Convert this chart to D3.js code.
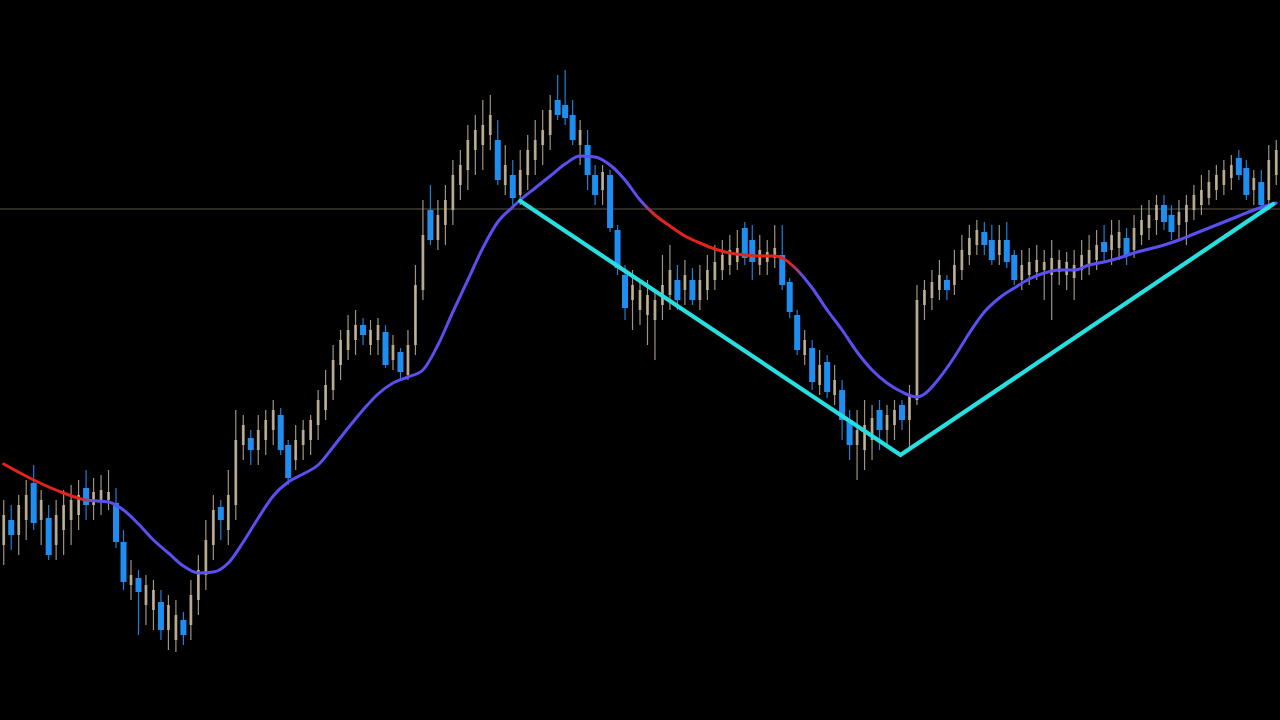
<!DOCTYPE html>
<html><head><meta charset="utf-8">
<script src="https://cdn.jsdelivr.net/npm/d3@7"></script>
<style>html,body{margin:0;padding:0;background:#000;overflow:hidden}</style>
</head><body><svg id="c" width="1280" height="720"></svg>
<script>
// candles: [open, high, low, close]
const candles = [
[117.5,122.0,115.5,120.5],[120.0,121.5,117.0,118.5],[118.5,122.5,116.5,121.5],[120.0,124.0,118.0,122.5],
[123.7,125.5,119.0,119.7],[120.0,123.0,117.5,122.0],[120.2,121.5,116.0,116.5],[117.5,122.0,116.0,120.5],
[119.0,123.0,116.5,121.5],[120.0,123.5,117.5,122.0],[120.5,124.0,119.0,122.5],[123.2,125.0,120.0,121.5],
[121.5,124.2,120.0,122.8],[122.0,124.5,120.5,123.0],[122.0,125.0,121.0,122.8],[121.7,123.2,117.2,117.8],
[117.8,119.0,113.0,113.8],[113.5,116.0,112.0,114.5],[114.2,115.0,108.5,112.8],[111.5,114.5,109.5,113.5],
[111.0,114.0,109.0,113.0],[111.8,113.0,108.0,109.0],[109.0,112.5,107.0,111.5],[108.0,112.0,106.8,110.5],
[110.0,110.8,107.5,108.5],[109.5,114.0,108.0,112.5],[112.0,116.5,110.5,115.0],[114.5,120.0,113.0,118.0],
[117.5,122.5,116.0,121.0],[121.3,122.0,118.0,120.0],[119.0,125.0,117.5,122.5],[121.5,131.0,120.0,128.0],
[127.5,130.5,126.0,129.5],[128.2,129.0,125.5,127.0],[127.0,130.5,125.5,129.0],[128.0,131.0,126.5,130.0],
[129.0,132.0,127.5,131.0],[130.5,131.2,126.5,127.0],[127.5,128.0,123.5,124.2],[126.0,129.5,125.0,128.0],
[127.5,130.0,126.0,129.0],[128.0,130.5,126.5,130.0],[129.5,133.0,128.0,132.0],[131.0,135.0,130.0,133.5],
[133.0,137.5,132.0,136.0],[135.5,139.0,134.0,138.0],[137.0,140.5,136.0,139.0],[138.0,141.0,136.5,139.5],
[139.5,140.2,137.5,138.5],[137.5,140.0,136.5,139.0],[138.0,140.2,136.5,139.5],[138.8,139.5,135.2,135.5],
[136.0,138.5,135.0,137.5],[136.8,137.2,134.0,134.8],[134.5,139.0,134.0,137.5],[137.5,145.5,136.5,143.5],
[143.0,152.0,142.0,148.5],[151.0,153.5,147.5,148.0],[148.0,152.0,147.0,150.5],[149.5,153.5,147.5,152.0],
[151.0,156.0,149.5,154.5],[153.5,157.0,152.0,155.5],[155.0,159.5,153.0,158.0],[157.0,160.5,154.5,159.0],
[157.5,162.0,155.0,159.5],[158.5,162.5,157.0,160.5],[158.0,160.0,153.5,154.0],[153.5,157.5,152.5,155.5],
[154.5,156.0,151.5,152.2],[152.5,157.0,151.5,155.0],[154.5,158.5,153.0,157.0],[156.0,160.0,154.5,158.0],
[157.5,161.0,155.5,159.0],[158.5,162.5,157.0,161.0],[162.0,164.5,160.0,160.5],[161.5,165.0,159.5,160.2],
[160.5,162.0,157.5,158.0],[157.5,160.0,155.5,159.0],[157.5,159.0,153.0,154.5],[154.5,155.5,151.5,152.5],
[153.0,155.5,151.5,154.8],[154.5,155.0,148.8,149.2],[149.0,149.5,144.5,145.2],[144.5,145.5,140.0,141.2],
[142.0,145.0,139.0,143.5],[141.0,144.0,139.5,143.0],[140.5,144.0,137.5,142.5],[140.0,143.0,136.0,142.0],
[141.5,146.5,140.0,143.5],[142.5,147.5,141.0,145.0],[144.0,145.5,141.0,142.0],[143.0,146.0,141.5,144.5],
[144.0,145.2,141.5,142.0],[142.0,145.5,141.0,144.0],[143.0,146.5,142.0,145.0],[144.0,147.5,143.0,145.8],
[145.0,148.0,144.0,146.5],[145.5,148.5,144.5,147.0],[145.8,149.0,145.0,147.2],[149.2,149.8,145.5,146.2],
[148.0,149.5,144.0,145.8],[145.5,148.5,144.5,147.0],[145.8,148.0,144.5,146.8],[146.2,149.5,145.2,147.2],
[146.5,149.5,143.0,143.5],[143.8,144.2,140.2,140.8],[140.5,141.0,136.5,137.0],[136.5,139.0,135.5,138.0],
[137.2,138.0,133.0,133.8],[133.5,137.0,132.5,135.5],[135.8,136.5,132.2,132.8],[132.5,135.5,131.5,134.0],
[133.0,134.0,128.0,130.0],[130.0,131.0,126.0,127.5],[127.5,131.0,124.0,129.0],[127.0,132.0,125.0,129.5],
[128.0,131.5,126.0,130.2],[131.0,132.0,127.0,129.0],[129.0,131.5,127.5,130.5],[129.5,132.0,128.0,131.0],
[131.5,132.0,129.0,130.0],[130.0,133.5,127.0,132.5],[132.0,143.5,131.5,142.0],[141.5,144.0,140.0,143.0],
[142.2,145.0,141.0,143.8],[143.0,146.0,142.0,144.5],[144.0,144.5,142.0,143.0],[143.5,147.0,142.5,145.5],
[145.0,148.5,144.0,147.0],[146.5,149.5,145.5,148.2],[147.5,150.0,146.5,149.0],[148.8,149.8,146.5,147.5],
[148.0,149.5,145.5,146.0],[146.5,149.5,145.5,148.0],[148.0,149.8,145.2,145.8],[146.5,147.0,143.5,144.0],
[144.0,147.0,143.0,145.5],[144.5,147.2,143.5,145.8],[144.8,147.5,144.0,146.0],[145.0,147.0,142.0,145.8],
[144.5,148.0,140.0,146.2],[144.8,147.0,143.5,146.0],[144.5,146.8,143.0,145.8],[144.2,147.0,142.0,145.5],
[145.0,148.0,144.0,146.5],[145.5,148.5,144.5,147.0],[146.0,149.0,145.0,147.5],[147.8,149.5,145.8,146.8],
[147.0,150.0,145.5,148.5],[147.2,150.0,146.0,148.8],[148.2,149.2,145.5,146.5],[147.0,150.5,146.2,149.2],
[148.5,151.5,147.5,150.0],[149.2,152.0,148.0,150.5],[150.0,152.5,148.5,151.5],[151.5,152.5,149.0,149.8],
[150.5,151.5,148.0,148.8],[149.5,152.0,148.0,150.8],[149.8,152.5,147.5,151.5],[151.0,153.5,150.0,152.5],
[151.5,154.5,150.5,153.0],[152.2,155.0,151.5,153.8],[153.0,155.5,152.0,154.5],[153.5,156.0,152.5,155.0],
[154.2,156.5,153.0,155.5],[156.2,157.0,154.0,154.5],[155.2,156.0,152.0,152.5],[153.0,155.0,151.5,154.2],
[153.8,155.0,151.0,151.5],[152.0,157.5,151.0,156.0],[154.5,158.0,153.5,157.0]
];
// moving average: [bar index, value]
const maPoints = [
[0,125.6],[4,124.0],[8,122.7],[11,122.0],[14,121.8],[16,121.0],[18,119.6],[20,118.0],[22,116.7],[24,115.4],
[26,114.7],[28,114.8],[30,115.7],[32,117.8],[34,120.2],[36,122.4],[38,123.8],[40,124.6],[42,125.5],[44,127.3],
[46,129.2],[48,131.0],[50,132.6],[52,133.7],[54,134.3],[56,135.0],[58,137.5],[60,140.8],[62,144.0],[64,147.2],
[66,149.8],[68,151.3],[69,152.0],[71,153.2],[73,154.4],[75,155.6],[77,156.4],[79,156.3],[81,155.5],[83,154.0],
[85,152.0],[87,150.5],[89,149.4],[91,148.4],[93,147.7],[95,147.1],[97,146.7],[99,146.5],[101,146.4],[103,146.4],
[104,146.2],[106,145.0],[108,143.2],[110,141.0],[112,139.0],[114,136.8],[116,135.0],[118,133.7],[120,132.8],[122,132.3],
[123,132.6],[125,134.2],[127,136.3],[129,138.7],[131,140.8],[133,142.2],[135,143.2],[137,144.1],[139,144.7],[141,145.0],
[143,145.0],[145,145.5],[147,145.8],[149,146.2],[151,146.7],[153,147.1],[155,147.5],[157,148.0],[159,148.6],[161,149.2],
[163,149.8],[165,150.4],[167,151.0],[169,151.5],[170,151.7]
];
// bar ranges where the MA is drawn red (falling phase)
const maRedRanges = [[-1,11],[86,106]];
// zigzag swing points: [bar index, value]
const zigzag = [[69,151.9],[119.8,126.5],[169.6,151.6]];
// horizontal level
const levelValue = 151.1;

const W = 1280, H = 720;
const svg = d3.select("#c");
svg.append("rect").attr("width",W).attr("height",H).attr("fill","#000");

const x = d3.scaleLinear().domain([-0.5, candles.length - 0.5]).range([0, W]);
const y = d3.scaleLinear().domain([100, 172]).range([H, 0]);

const upCol = "#c7b99d", dnCol = "#1e8ff0";

// horizontal level line
svg.append("line").attr("x1",0).attr("x2",W)
  .attr("y1",y(levelValue)).attr("y2",y(levelValue))
  .attr("stroke","#6e6656").attr("stroke-width",1).attr("opacity",0.85);

const g = svg.append("g");
const bars = g.selectAll("g.bar").data(candles).join("g").attr("class","bar");
bars.append("line")
  .attr("x1",(d,i)=>x(i)).attr("x2",(d,i)=>x(i))
  .attr("y1",d=>y(d[1])).attr("y2",d=>y(d[2]))
  .attr("stroke",d=>d[3]>=d[0]?upCol:dnCol)
  .attr("stroke-width",1.2).attr("opacity",d=>d[3]>=d[0]?0.8:0.9);
bars.append("rect")
  .attr("x",(d,i)=>x(i) - (d[3]>=d[0]?1.4:3))
  .attr("width",d=>d[3]>=d[0]?2.8:6)
  .attr("y",d=>y(Math.max(d[0],d[3])))
  .attr("height",d=>Math.max(1,Math.abs(y(d[0])-y(d[3]))))
  .attr("fill",d=>d[3]>=d[0]?upCol:dnCol)
  .attr("opacity",d=>d[3]>=d[0]?0.85:1);

// MA gradient
const defs = svg.append("defs");
const grad = defs.append("linearGradient").attr("id","maGrad")
  .attr("gradientUnits","userSpaceOnUse").attr("x1",0).attr("x2",W).attr("y1",0).attr("y2",0);
const red = "#e3231c", blue = "#5b4ff2";
const stops = [];
maRedRanges.forEach(([a,b])=>{
  stops.push([x(a)-6, blue],[x(a)+6, red],[x(b)-6, red],[x(b)+6, blue]);
});
stops.sort((p,q)=>p[0]-q[0]);
stops.forEach(([px,c])=>{
  grad.append("stop").attr("offset",Math.max(0,Math.min(1,px/W))).attr("stop-color",c);
});

const maLine = d3.line().x(d=>x(d[0])).y(d=>y(d[1])).curve(d3.curveMonotoneX);
svg.append("path").datum(maPoints).attr("d",maLine)
  .attr("fill","none").attr("stroke","url(#maGrad)").attr("stroke-width",3)
  .attr("stroke-linejoin","round").attr("stroke-linecap","round");

// zigzag
svg.append("path").datum(zigzag)
  .attr("d",d3.line().x(d=>x(d[0])).y(d=>y(d[1])))
  .attr("fill","none").attr("stroke","#27dfe0").attr("stroke-width",4.2)
  .attr("stroke-linejoin","miter").attr("stroke-linecap","round");
</script></body></html>
